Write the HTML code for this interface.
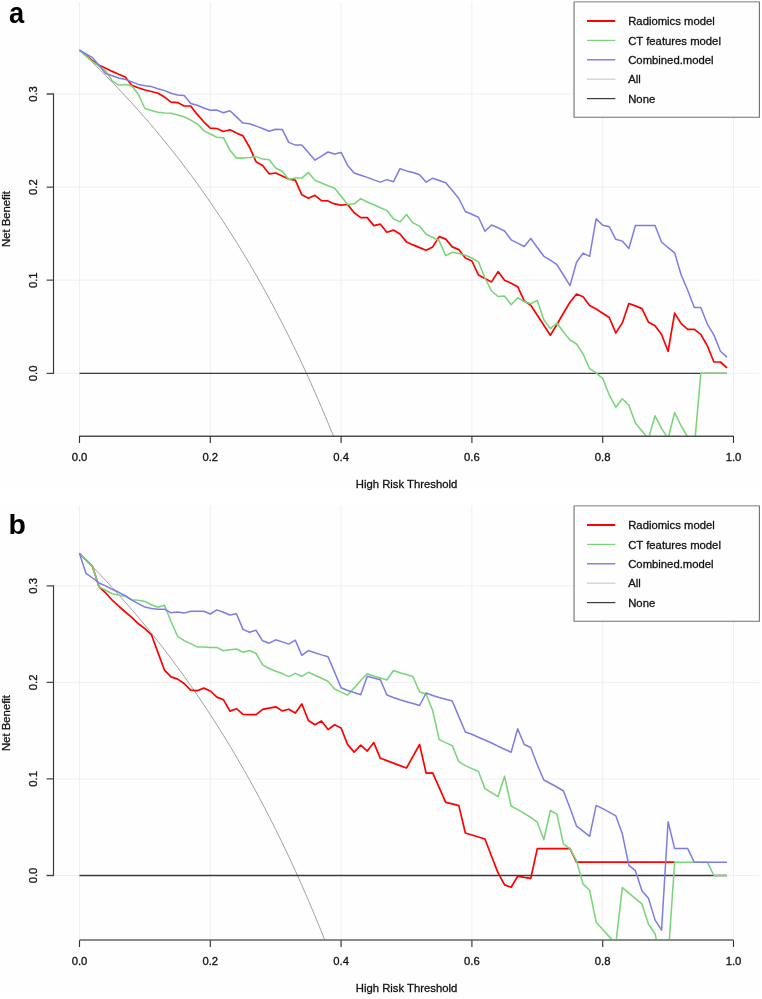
<!DOCTYPE html><html><head><meta charset="utf-8"><style>html,body{margin:0;padding:0;background:#fff;}svg{display:block}text{font-family:"Liberation Sans",sans-serif;stroke:#111;stroke-width:0.3px;}</style></head><body>
<svg width="762" height="999" viewBox="0 0 762 999" style="will-change:transform">
<rect x="0" y="0" width="762" height="999" fill="#ffffff"/>
<rect x="2.0" y="2.0" width="757.5" height="487.3" fill="#fefefe"/>
<defs><clipPath id="clip0"><rect x="53.5" y="2.0" width="706.16" height="434.1"/></clipPath></defs>
<path d="M79.50 2.00V436.10M210.30 2.00V436.10M341.10 2.00V436.10M471.90 2.00V436.10M602.70 2.00V436.10M733.50 2.00V436.10M53.50 373.30H759.66M53.50 280.20H759.66M53.50 187.10H759.66M53.50 94.00H759.66" stroke="#efefef" stroke-width="1" fill="none"/>
<g clip-path="url(#clip0)" fill="none" stroke-linejoin="round">
<polyline points="79.50,50.21 86.04,56.35 92.58,62.61 99.12,69.01 105.66,75.54 112.20,82.20 118.74,89.01 125.28,95.96 131.82,103.07 138.36,110.33 144.90,117.75 151.44,125.34 157.98,133.10 164.52,141.04 171.06,149.17 177.60,157.48 184.14,166.00 190.68,174.72 197.22,183.65 203.76,192.80 210.30,202.18 216.84,211.80 223.38,221.67 229.92,231.79 236.46,242.18 243.00,252.84 249.54,263.79 256.08,275.05 262.62,286.61 269.16,298.51 275.70,310.74 282.24,323.32 288.78,336.28 295.32,349.62 301.86,363.37 308.40,377.54 314.94,392.15 321.48,407.23 328.02,422.79 334.56,438.87 341.10,455.48 347.64,472.65 354.18,490.41 360.72,508.80 367.26,527.85 373.80,547.58 380.34,568.05 386.88,589.29 393.42,611.35 399.96,634.27 406.50,658.11 413.04,682.92 419.58,708.77 426.12,735.72 432.66,763.83 439.20,793.20 445.74,823.90 452.28,856.03 458.82,889.69 465.36,925.00 471.90,962.06 478.44,1001.03 484.98,1042.05 491.52,1085.29 498.06,1130.93 504.60,1179.17 511.14,1230.26 517.68,1284.44 524.22,1342.01 530.76,1403.29 537.30,1468.65 543.84,1538.53 550.38,1613.39 556.92,1693.80 563.46,1780.40 570.00,1873.92 576.54,1975.24 583.08,2085.37 589.62,2205.51 596.16,2337.09 602.70,2481.83 609.24,2641.80 615.78,2819.55 622.32,3018.22 628.86,3241.71 635.40,3495.01 641.94,3784.48 648.48,4118.50 655.02,4508.18 661.56,4968.72 668.10,5521.36 674.64,6196.81 681.18,7041.12 687.72,8126.67 694.26,9574.06 700.80,11600.42 707.34,14639.94 713.88,19705.83 720.42,29837.59 726.96,60232.88" stroke="#a0a0a0" stroke-width="1.0"/>
<path d="M79.50 373.30H726.96" stroke="#3a3a3a" stroke-width="1.3"/>
<polyline points="79.50,50.10 86.04,55.30 92.58,60.70 99.12,65.20 105.66,68.30 112.20,71.40 118.74,74.30 125.28,77.00 131.82,85.40 138.36,87.80 144.90,90.00 151.44,91.50 157.98,93.20 164.52,97.10 171.06,102.10 177.60,102.60 184.14,106.00 190.68,106.00 197.22,114.40 203.76,121.80 210.30,128.10 216.84,128.50 223.38,131.50 229.92,129.70 236.46,133.00 243.00,135.90 249.54,147.20 256.08,161.80 262.62,165.50 269.16,173.80 275.70,173.00 282.24,176.00 288.78,179.10 295.32,180.20 301.86,194.80 308.40,198.20 314.94,195.30 321.48,200.70 328.02,200.90 334.56,203.90 341.10,205.10 347.64,204.50 354.18,212.80 360.72,217.60 367.26,217.60 373.80,225.60 380.34,224.20 386.88,232.30 393.42,230.10 399.96,234.00 406.50,241.90 413.04,244.90 419.58,247.60 426.12,250.30 432.66,246.90 439.20,236.60 445.74,239.10 452.28,246.90 458.82,249.60 465.36,258.00 471.90,261.00 478.44,274.90 484.98,278.40 491.52,281.90 498.06,271.60 504.60,280.20 511.14,283.20 517.68,286.70 524.22,300.80 530.76,305.20 537.30,315.30 543.84,325.20 550.38,335.20 556.92,324.50 563.46,313.00 570.00,302.20 576.54,294.00 583.08,296.80 589.62,305.50 596.16,309.00 602.70,313.20 609.24,317.50 615.78,333.00 622.32,322.90 628.86,303.50 635.40,305.90 641.94,308.60 648.48,322.20 655.02,325.80 661.56,334.50 668.10,351.30 674.64,313.10 681.18,323.60 687.72,329.30 694.26,329.30 700.80,334.40 707.34,345.80 713.88,362.00 720.42,362.00 726.96,367.90" stroke="#ff0000" stroke-width="1.7"/>
<polyline points="79.50,50.10 86.04,55.80 92.58,61.70 99.12,66.20 105.66,70.80 112.20,80.90 118.74,85.20 125.28,84.60 131.82,86.10 138.36,94.20 144.90,108.50 151.44,110.40 157.98,112.20 164.52,112.90 171.06,113.20 177.60,114.90 184.14,116.80 190.68,120.10 197.22,123.70 203.76,130.60 210.30,134.00 216.84,137.20 223.38,137.70 229.92,150.20 236.46,158.10 243.00,158.10 249.54,157.60 256.08,156.60 262.62,159.10 269.16,159.70 275.70,168.00 282.24,171.20 288.78,179.50 295.32,177.90 301.86,178.10 308.40,172.40 314.94,180.20 321.48,183.00 328.02,185.70 334.56,187.90 341.10,196.30 347.64,204.50 354.18,203.80 360.72,198.60 367.26,202.00 373.80,204.80 380.34,207.70 386.88,210.40 393.42,218.70 399.96,221.90 406.50,214.50 413.04,222.90 419.58,226.10 426.12,234.30 432.66,237.30 439.20,240.90 445.74,255.60 452.28,252.30 458.82,253.60 465.36,255.30 471.90,258.00 478.44,261.90 484.98,278.00 491.52,291.00 498.06,296.50 504.60,296.00 511.14,304.80 517.68,297.80 524.22,301.50 530.76,303.70 537.30,300.40 543.84,319.80 550.38,328.60 556.92,323.00 563.46,332.00 570.00,340.00 576.54,344.00 583.08,354.00 589.62,368.70 596.16,372.80 602.70,378.50 609.24,394.80 615.78,407.20 622.32,398.70 628.86,405.30 635.40,423.00 641.94,430.90 648.48,438.70 655.02,415.80 661.56,428.30 668.10,438.50 674.64,412.50 681.18,426.00 687.72,437.00 694.26,448.00 700.80,373.30 707.34,373.30 713.88,373.30 720.42,373.30 726.96,373.30" stroke="#79d579" stroke-width="1.55"/>
<polyline points="79.50,50.10 86.04,54.00 92.58,57.60 99.12,65.60 105.66,73.50 112.20,75.70 118.74,78.00 125.28,79.40 131.82,81.90 138.36,84.40 144.90,85.70 151.44,86.60 157.98,88.80 164.52,90.60 171.06,93.20 177.60,95.00 184.14,95.50 190.68,103.50 197.22,105.30 203.76,108.00 210.30,110.20 216.84,110.10 223.38,112.80 229.92,110.80 236.46,116.90 243.00,123.10 249.54,123.80 256.08,126.10 262.62,128.50 269.16,131.30 275.70,129.20 282.24,129.40 288.78,142.40 295.32,145.10 301.86,144.90 308.40,152.50 314.94,160.20 321.48,156.20 328.02,152.00 334.56,154.00 341.10,152.40 347.64,165.40 354.18,173.00 360.72,175.20 367.26,177.40 373.80,179.90 380.34,182.10 386.88,179.60 393.42,181.80 399.96,168.70 406.50,170.90 413.04,172.50 419.58,174.80 426.12,182.20 432.66,178.20 439.20,180.50 445.74,182.80 452.28,190.50 458.82,198.50 465.36,211.50 471.90,214.30 478.44,217.20 484.98,231.20 491.52,225.00 498.06,227.80 504.60,231.00 511.14,239.80 517.68,243.20 524.22,246.50 530.76,238.50 537.30,247.50 543.84,256.30 550.38,260.20 556.92,264.60 563.46,275.00 570.00,285.60 576.54,262.20 583.08,253.10 589.62,256.30 596.16,218.70 602.70,225.30 609.24,226.70 615.78,239.30 622.32,241.10 628.86,248.60 635.40,225.50 641.94,225.50 648.48,225.50 655.02,225.50 661.56,242.00 668.10,247.70 674.64,252.80 681.18,275.00 687.72,290.20 694.26,307.40 700.80,307.40 707.34,324.10 713.88,334.90 720.42,351.20 726.96,357.10" stroke="#7c7ce2" stroke-width="1.5"/>
</g>
<path d="M53.50 373.30V94.00" stroke="#333" stroke-width="1.15" fill="none" stroke-linecap="square"/>
<path d="M46.60 373.30H53.50M46.60 280.20H53.50M46.60 187.10H53.50M46.60 94.00H53.50" stroke="#4a4a4a" stroke-width="1.3" fill="none"/>
<path d="M79.50 436.20H733.50" stroke="#505050" stroke-width="1.4" fill="none"/>
<path d="M79.50 436.10V443.00M210.30 436.10V443.00M341.10 436.10V443.00M471.90 436.10V443.00M602.70 436.10V443.00M733.50 436.10V443.00" stroke="#333" stroke-width="1.15" fill="none"/>
<text transform="translate(37.3 373.30) rotate(-90)" text-anchor="middle" font-size="11.3" fill="#111">0.0</text>
<text transform="translate(37.3 280.20) rotate(-90)" text-anchor="middle" font-size="11.3" fill="#111">0.1</text>
<text transform="translate(37.3 187.10) rotate(-90)" text-anchor="middle" font-size="11.3" fill="#111">0.2</text>
<text transform="translate(37.3 94.00) rotate(-90)" text-anchor="middle" font-size="11.3" fill="#111">0.3</text>
<text transform="translate(10.3 219.05) rotate(-90)" text-anchor="middle" font-size="11.3" fill="#111">Net Benefit</text>
<text x="79.50" y="461.40" text-anchor="middle" font-size="11.3" fill="#111">0.0</text>
<text x="210.30" y="461.40" text-anchor="middle" font-size="11.3" fill="#111">0.2</text>
<text x="341.10" y="461.40" text-anchor="middle" font-size="11.3" fill="#111">0.4</text>
<text x="471.90" y="461.40" text-anchor="middle" font-size="11.3" fill="#111">0.6</text>
<text x="602.70" y="461.40" text-anchor="middle" font-size="11.3" fill="#111">0.8</text>
<text x="733.50" y="461.40" text-anchor="middle" font-size="11.3" fill="#111">1.0</text>
<text x="406.58" y="487.90" text-anchor="middle" font-size="11.3" fill="#111">High Risk Threshold</text>
<rect x="574.05" y="2.00" width="185.35" height="115.20" fill="#fefefe"/>
<path d="M574.05 1.80H759.4" stroke="#a8a8a8" stroke-width="1.6" fill="none"/>
<path d="M574.05 1.80V117.20H759.4V1.80" stroke="#707070" stroke-width="1.1" fill="none"/>
<path d="M587 21.00H615.3" stroke="#ff0000" stroke-width="2.0"/>
<text x="628.2" y="25.20" font-size="11.3" fill="#111">Radiomics model</text>
<path d="M587 40.40H615.3" stroke="#79d579" stroke-width="1.2"/>
<text x="628.2" y="44.60" font-size="11.3" fill="#111">CT features model</text>
<path d="M587 59.80H615.3" stroke="#7c7ce2" stroke-width="1.4"/>
<text x="628.2" y="64.00" font-size="11.3" fill="#111">Combined.model</text>
<path d="M587 79.20H615.3" stroke="#cacaca" stroke-width="1.1"/>
<text x="628.2" y="83.40" font-size="11.3" fill="#111">All</text>
<path d="M587 98.60H615.3" stroke="#3a3a3a" stroke-width="1.2"/>
<text x="628.2" y="102.80" font-size="11.3" fill="#111">None</text>
<text transform="translate(9.05 22.5) scale(0.94 1)" font-size="29" font-weight="bold" fill="#000" style="stroke:none">a</text>
<rect x="2.0" y="505.1" width="757.5" height="487.9" fill="#fefefe"/>
<defs><clipPath id="clip1"><rect x="53.5" y="505.8" width="706.16" height="434.40000000000003"/></clipPath></defs>
<path d="M79.50 505.80V940.20M210.30 505.80V940.20M341.10 505.80V940.20M471.90 505.80V940.20M602.70 505.80V940.20M733.50 505.80V940.20M53.50 875.50H759.66M53.50 778.93H759.66M53.50 682.36H759.66M53.50 585.79H759.66" stroke="#efefef" stroke-width="1" fill="none"/>
<g clip-path="url(#clip1)" fill="none" stroke-linejoin="round">
<polyline points="79.50,553.63 86.04,560.14 92.58,566.77 99.12,573.54 105.66,580.46 112.20,587.52 118.74,594.73 125.28,602.09 131.82,609.62 138.36,617.31 144.90,625.17 151.44,633.21 157.98,641.43 164.52,649.84 171.06,658.44 177.60,667.25 184.14,676.27 190.68,685.50 197.22,694.96 203.76,704.65 210.30,714.59 216.84,724.78 223.38,735.23 229.92,745.95 236.46,756.95 243.00,768.24 249.54,779.84 256.08,791.76 262.62,804.01 269.16,816.61 275.70,829.56 282.24,842.89 288.78,856.61 295.32,870.74 301.86,885.30 308.40,900.31 314.94,915.79 321.48,931.76 328.02,948.24 334.56,965.26 341.10,982.85 347.64,1001.04 354.18,1019.86 360.72,1039.33 367.26,1059.50 373.80,1080.40 380.34,1102.08 386.88,1124.58 393.42,1147.94 399.96,1172.22 406.50,1197.46 413.04,1223.74 419.58,1251.12 426.12,1279.66 432.66,1309.44 439.20,1340.54 445.74,1373.05 452.28,1407.08 458.82,1442.73 465.36,1480.12 471.90,1519.38 478.44,1560.65 484.98,1604.10 491.52,1649.89 498.06,1698.22 504.60,1749.32 511.14,1803.42 517.68,1860.81 524.22,1921.78 530.76,1986.68 537.30,2055.91 543.84,2129.91 550.38,2209.20 556.92,2294.36 563.46,2386.08 570.00,2485.13 576.54,2592.43 583.08,2709.07 589.62,2836.31 596.16,2975.67 602.70,3128.96 609.24,3298.39 615.78,3486.65 622.32,3697.05 628.86,3933.75 635.40,4202.01 641.94,4508.60 648.48,4862.36 655.02,5275.07 661.56,5762.82 668.10,6348.12 674.64,7063.49 681.18,7957.70 687.72,9107.40 694.26,10640.34 700.80,12786.44 707.34,16005.60 713.88,21370.87 720.42,32101.41 726.96,64293.02" stroke="#a0a0a0" stroke-width="1.0"/>
<path d="M79.50 875.50H726.96" stroke="#3a3a3a" stroke-width="1.3"/>
<polyline points="79.50,553.40 86.04,560.00 92.58,566.70 99.12,586.90 105.66,592.80 112.20,600.20 118.74,606.10 125.28,612.00 131.82,617.40 138.36,623.80 144.90,628.60 151.44,634.80 157.98,652.60 164.52,670.20 171.06,676.90 177.60,679.10 184.14,683.50 190.68,690.10 197.22,690.70 203.76,688.10 210.30,691.00 216.84,697.10 223.38,699.70 229.92,711.10 236.46,708.70 243.00,714.40 249.54,714.70 256.08,714.70 262.62,709.30 269.16,708.10 275.70,706.80 282.24,710.90 288.78,709.20 295.32,713.10 301.86,704.00 308.40,720.50 314.94,724.80 321.48,720.90 328.02,729.60 334.56,724.80 341.10,728.00 347.64,744.60 354.18,752.10 360.72,745.10 367.26,751.10 373.80,742.60 380.34,758.30 386.88,760.60 393.42,763.10 399.96,765.60 406.50,768.00 413.04,756.20 419.58,744.50 426.12,773.20 432.66,772.80 439.20,787.60 445.74,802.30 452.28,803.90 458.82,805.60 465.36,833.00 471.90,835.00 478.44,837.00 484.98,839.00 491.52,856.20 498.06,872.90 504.60,884.90 511.14,887.20 517.68,876.10 524.22,877.30 530.76,878.30 537.30,848.60 543.84,848.60 550.38,848.60 556.92,848.60 563.46,848.60 570.00,848.60 576.54,862.20 583.08,862.20 589.62,862.20 596.16,862.20 602.70,862.20 609.24,862.20 615.78,862.20 622.32,862.20 628.86,862.20 635.40,862.20 641.94,862.20 648.48,862.20 655.02,862.20 661.56,862.20 668.10,862.20 674.64,862.20" stroke="#ff0000" stroke-width="1.7"/>
<polyline points="79.50,553.40 86.04,560.00 92.58,566.70 99.12,586.90 105.66,590.30 112.20,593.80 118.74,595.00 125.28,596.20 131.82,599.70 138.36,600.20 144.90,601.40 151.44,604.80 157.98,607.20 164.52,605.30 171.06,621.50 177.60,636.30 184.14,640.70 190.68,643.60 197.22,646.90 203.76,647.10 210.30,647.40 216.84,647.40 223.38,650.70 229.92,649.80 236.46,649.00 243.00,652.30 249.54,650.50 256.08,653.50 262.62,664.90 269.16,668.50 275.70,671.20 282.24,673.60 288.78,676.60 295.32,673.40 301.86,676.30 308.40,672.30 314.94,675.30 321.48,678.30 328.02,681.20 334.56,689.00 341.10,692.10 347.64,695.00 354.18,688.00 360.72,680.50 367.26,673.80 373.80,676.00 380.34,678.00 386.88,680.00 393.42,670.50 399.96,672.80 406.50,674.50 413.04,676.80 419.58,692.00 426.12,694.00 432.66,710.50 439.20,739.60 445.74,742.60 452.28,745.60 458.82,761.70 465.36,765.60 471.90,768.60 478.44,771.50 484.98,788.60 491.52,792.60 498.06,796.60 504.60,776.30 511.14,806.00 517.68,809.60 524.22,813.30 530.76,817.40 537.30,822.20 543.84,839.60 550.38,810.50 556.92,814.10 563.46,844.20 570.00,848.60 576.54,861.00 583.08,884.10 589.62,890.20 596.16,922.20 602.70,929.50 609.24,936.60 615.78,944.00 622.32,887.60 628.86,893.10 635.40,898.60 641.94,903.90 648.48,924.30 655.02,933.70 661.56,962.00 668.10,958.00 674.64,862.20 681.18,862.20 687.72,862.20 694.26,862.20 700.80,862.20 707.34,862.20 713.88,875.50 720.42,875.50 726.96,875.50" stroke="#79d579" stroke-width="1.55"/>
<polyline points="79.50,553.40 86.04,573.40 92.58,578.00 99.12,583.00 105.66,585.90 112.20,589.30 118.74,592.30 125.28,595.70 131.82,600.20 138.36,603.60 144.90,607.10 151.44,608.50 157.98,609.20 164.52,609.20 171.06,612.80 177.60,612.10 184.14,613.10 190.68,611.30 197.22,611.30 203.76,611.30 210.30,614.00 216.84,609.90 223.38,612.30 229.92,615.00 236.46,613.80 243.00,629.40 249.54,632.20 256.08,630.30 262.62,640.80 269.16,643.20 275.70,639.80 282.24,641.90 288.78,644.10 295.32,640.20 301.86,655.40 308.40,650.60 314.94,652.80 321.48,654.90 328.02,656.70 334.56,672.10 341.10,687.70 347.64,690.50 354.18,692.50 360.72,694.80 367.26,676.20 373.80,678.00 380.34,679.80 386.88,695.00 393.42,697.50 399.96,699.80 406.50,701.70 413.04,703.50 419.58,705.50 426.12,693.00 432.66,695.50 439.20,697.50 445.74,699.20 452.28,701.00 458.82,716.60 465.36,732.00 471.90,734.20 478.44,737.20 484.98,740.00 491.52,743.00 498.06,746.20 504.60,749.20 511.14,752.20 517.68,728.80 524.22,744.50 530.76,747.50 537.30,764.80 543.84,780.00 550.38,783.50 556.92,787.00 563.46,791.00 570.00,808.00 576.54,826.10 583.08,831.10 589.62,836.30 596.16,805.40 602.70,808.60 609.24,812.10 615.78,815.80 622.32,833.80 628.86,865.30 635.40,870.70 641.94,890.80 648.48,898.20 655.02,919.90 661.56,930.20 668.10,821.80 674.64,848.60 681.18,848.60 687.72,848.60 694.26,862.20 700.80,862.20 707.34,862.20 713.88,862.20 720.42,862.20 726.96,862.20" stroke="#7c7ce2" stroke-width="1.5"/>
</g>
<path d="M53.50 875.50V585.79" stroke="#333" stroke-width="1.15" fill="none" stroke-linecap="square"/>
<path d="M46.60 875.50H53.50M46.60 778.93H53.50M46.60 682.36H53.50M46.60 585.79H53.50" stroke="#4a4a4a" stroke-width="1.3" fill="none"/>
<path d="M79.50 940.00H733.50" stroke="#8a8a8a" stroke-width="2.0" fill="none"/>
<path d="M79.50 940.20V947.10M210.30 940.20V947.10M341.10 940.20V947.10M471.90 940.20V947.10M602.70 940.20V947.10M733.50 940.20V947.10" stroke="#333" stroke-width="1.15" fill="none"/>
<text transform="translate(37.3 875.50) rotate(-90)" text-anchor="middle" font-size="11.3" fill="#111">0.0</text>
<text transform="translate(37.3 778.93) rotate(-90)" text-anchor="middle" font-size="11.3" fill="#111">0.1</text>
<text transform="translate(37.3 682.36) rotate(-90)" text-anchor="middle" font-size="11.3" fill="#111">0.2</text>
<text transform="translate(37.3 585.79) rotate(-90)" text-anchor="middle" font-size="11.3" fill="#111">0.3</text>
<text transform="translate(10.3 723.00) rotate(-90)" text-anchor="middle" font-size="11.3" fill="#111">Net Benefit</text>
<text x="79.50" y="964.90" text-anchor="middle" font-size="11.3" fill="#111">0.0</text>
<text x="210.30" y="964.90" text-anchor="middle" font-size="11.3" fill="#111">0.2</text>
<text x="341.10" y="964.90" text-anchor="middle" font-size="11.3" fill="#111">0.4</text>
<text x="471.90" y="964.90" text-anchor="middle" font-size="11.3" fill="#111">0.6</text>
<text x="602.70" y="964.90" text-anchor="middle" font-size="11.3" fill="#111">0.8</text>
<text x="733.50" y="964.90" text-anchor="middle" font-size="11.3" fill="#111">1.0</text>
<text x="406.58" y="991.60" text-anchor="middle" font-size="11.3" fill="#111">High Risk Threshold</text>
<rect x="574.05" y="506.00" width="185.35" height="115.20" fill="#fefefe"/>
<path d="M574.05 505.80H759.4" stroke="#a8a8a8" stroke-width="1.6" fill="none"/>
<path d="M574.05 505.80V621.20H759.4V505.80" stroke="#707070" stroke-width="1.1" fill="none"/>
<path d="M587 525.00H615.3" stroke="#ff0000" stroke-width="2.0"/>
<text x="628.2" y="529.20" font-size="11.3" fill="#111">Radiomics model</text>
<path d="M587 544.40H615.3" stroke="#79d579" stroke-width="1.2"/>
<text x="628.2" y="548.60" font-size="11.3" fill="#111">CT features model</text>
<path d="M587 563.80H615.3" stroke="#7c7ce2" stroke-width="1.4"/>
<text x="628.2" y="568.00" font-size="11.3" fill="#111">Combined.model</text>
<path d="M587 583.20H615.3" stroke="#cacaca" stroke-width="1.1"/>
<text x="628.2" y="587.40" font-size="11.3" fill="#111">All</text>
<path d="M587 602.60H615.3" stroke="#3a3a3a" stroke-width="1.2"/>
<text x="628.2" y="606.80" font-size="11.3" fill="#111">None</text>
<text x="8.6" y="534.2" font-size="28.5" font-weight="bold" fill="#000" style="stroke:none">b</text>
</svg></body></html>
